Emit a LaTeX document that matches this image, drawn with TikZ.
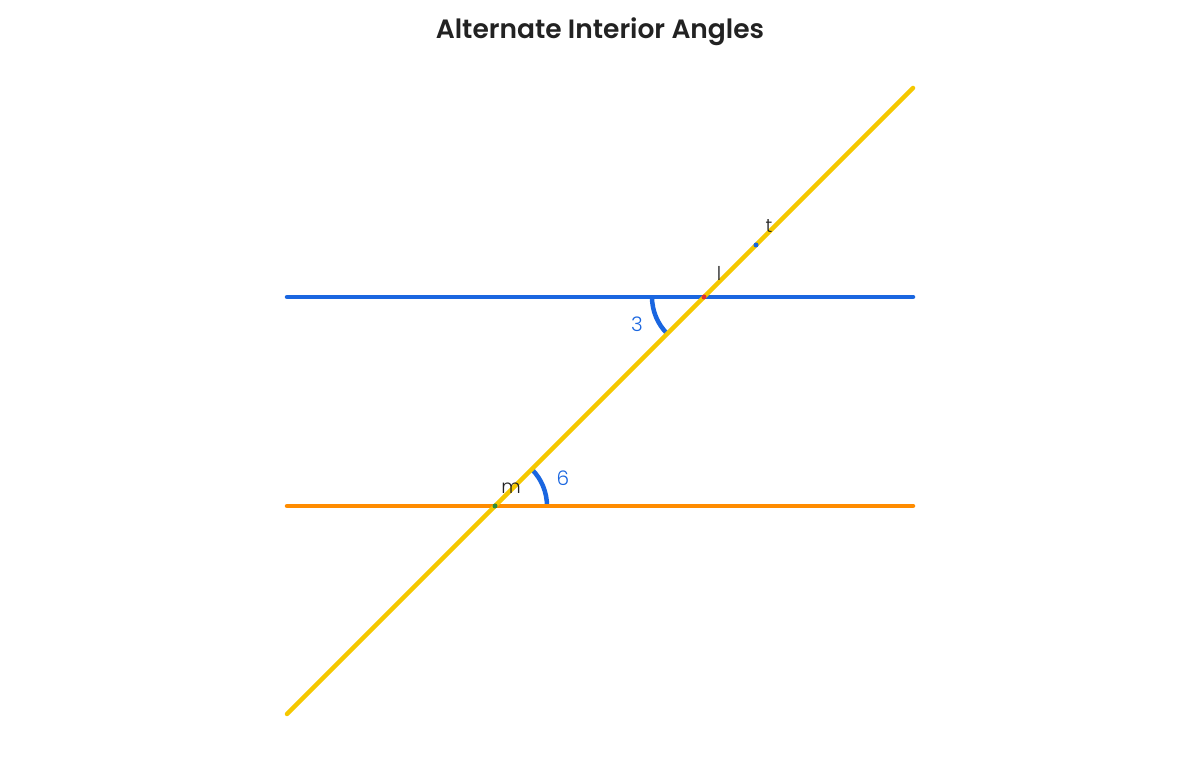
\documentclass[tikz,border=0pt]{standalone}
\usepackage{fontspec}
\setmainfont{Poppins}
\newfontfamily\titlefont{Poppins SemiBold}
\newfontfamily\lblfont{Poppins Light}
\definecolor{lblue}{HTML}{1A66E0}
\definecolor{lorange}{HTML}{FF8C00}
\definecolor{lyellow}{HTML}{F5C800}
\definecolor{lred}{HTML}{E03030}
\definecolor{lgreen}{HTML}{2E8B3E}
\definecolor{ltext}{HTML}{222222}
\tikzset{
  geoline/.style={line width=4.5pt, line cap=round},
  anglearc/.style={line width=4.5pt, draw=lblue},
  ptdot/.style={circle, inner sep=0pt, minimum size=5pt},
  lbl/.style={font=\fontsize{19}{22}\selectfont\lblfont, text=ltext, inner sep=0pt},
  anglelbl/.style={font=\fontsize{20}{22}\selectfont\lblfont, text=lblue, inner sep=0pt},
}
\begin{document}
\begin{tikzpicture}[x=1pt,y=1pt]
\useasboundingbox (0,0) rectangle (1200,763);
\fill[white] (0,0) rectangle (1200,763);
\node[font=\fontsize{26.5}{30}\selectfont\titlefont, text=ltext] (title) at (600,731) {Alternate Interior Angles};
% line endpoints
\coordinate (l1) at (287,466);
\coordinate (l2) at (913,466);
\coordinate (m1) at (287,257);
\coordinate (m2) at (913,257);
\coordinate (t1) at (287,49);
\coordinate (t2) at (913,675);
\coordinate (P) at (704,466);
\coordinate (Q) at (495,257);
% angle arcs
\draw[anglearc] ([shift={(180:52)}]P) arc[start angle=180, end angle=225, radius=52];
\draw[anglearc] ([shift={(0:52)}]Q) arc[start angle=0, end angle=45, radius=52];
% lines
\draw[geoline, draw=lblue] (l1) -- (l2);
\draw[geoline, draw=lorange] (m1) -- (m2);
\draw[geoline, draw=lyellow] (t1) -- (t2);
% points
\node[ptdot, fill=lred] (pl) at (P) {};
\node[ptdot, fill=lgreen] (pm) at (Q) {};
\node[ptdot, fill=lblue] (pt) at (756,518) {};
% labels
\node[lbl] (labl) at (719,490) {l};
\node[lbl] (labt) at (769,537) {t};
\node[lbl] (labm) at (511,275) {m};
\node[anglelbl] (lab3) at (637,439) {3};
\node[anglelbl] (lab6) at (563,285) {6};
\end{tikzpicture}
\end{document}
